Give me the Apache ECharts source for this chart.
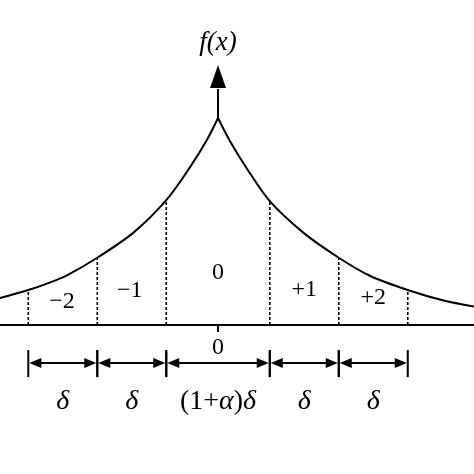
<!DOCTYPE html>
<html>
<head>
<meta charset="utf-8">
<script src="https://cdn.jsdelivr.net/npm/echarts@6/dist/echarts.min.js"></script>
<style>
html,body{margin:0;padding:0;background:#fff;}
#c{width:474px;height:474px;}
</style>
</head>
<body>
<div id="c"></div>
<script>
// ---- data (x in units of delta, y relative to peak) ----
const leftCurveX  = [-3.16, -2.75, -2.44, -2.19, -1.75, -1.23, -0.75, -0.41, -0.16, 0];
const leftCurveY  = [0.130, 0.169, 0.205, 0.240, 0.325, 0.445, 0.603, 0.760, 0.895, 1.0];
const rightCurveX = [0, 0.17, 0.41, 0.75, 1.24, 1.75, 2.20, 2.75, 3.27, 3.71];
const rightCurveY = [1.0, 0.890, 0.760, 0.598, 0.445, 0.325, 0.238, 0.169, 0.118, 0.089];

const boundaries      = [-2.75, -1.75, -0.75, 0.75, 1.75, 2.75];
const boundaryHeights = [0.169, 0.325, 0.603, 0.598, 0.325, 0.169];

const regionLabels = ['\u22122', '\u22121', '0', '+1', '+2'];
const regionX      = [-2.26, -1.28, 0, 1.25, 2.25];
const regionY      = [0.111, 0.164, 0.251, 0.169, 0.130];

const dimStart  = [-2.75, -1.75, -0.75, 0.75, 1.75];
const dimEnd    = [-1.75, -0.75, 0.75, 1.75, 2.75];
const dimLabels = ['{i|δ}', '{i|δ}', '{u|(1+}{i|α}{u|)}{i|δ}', '{i|δ}', '{i|δ}'];

const xTickValues = [0];
const xTickLabels = ['0'];
const yAxisName = 'f(x)';

// ---- layout constants ----
const X_MIN = -3.16, X_MAX = 3.71, Y_MIN = -0.5, Y_MAX = 1.26;
const DIM_ROW_Y = -0.184, DIM_LABEL_Y = -0.372, TICK_LABEL_Y = -0.111, NAME_Y = 1.362;
const FONT = 'Liberation Serif';

const chart = echarts.init(document.getElementById('c'));

const option = {
  animation: false,
  backgroundColor: '#fff',
  grid: {left: 0, right: 0, top: 64.18, bottom: 45.5},
  xAxis: {
    type: 'value', min: X_MIN, max: X_MAX,
    axisLine: {onZero: true, lineStyle: {color: '#000', width: 2}},
    axisTick: {show: true, customValues: xTickValues, length: 7, lineStyle: {color: '#000', width: 2}},
    axisLabel: {show: false},
    splitLine: {show: false}
  },
  yAxis: {
    type: 'value', min: Y_MIN, max: Y_MAX,
    axisLine: {show: false}, axisTick: {show: false}, axisLabel: {show: false}, splitLine: {show: false}
  },
  series: [
    {
      type: 'line', data: leftCurveX.map((x, i) => [x, leftCurveY[i]]),
      smooth: 0.3, symbol: 'none', clip: false,
      lineStyle: {color: '#000', width: 2}
    },
    {
      type: 'line', data: rightCurveX.map((x, i) => [x, rightCurveY[i]]),
      smooth: 0.3, symbol: 'none', clip: false,
      lineStyle: {color: '#000', width: 2}
    },
    // dashed boundaries
    {
      type: 'custom',
      data: boundaries.map((x, i) => [x, boundaryHeights[i]]),
      renderItem: function (params, api) {
        const p0 = api.coord([api.value(0), 0]);
        const p1 = api.coord([api.value(0), api.value(1)]);
        return {
          type: 'line',
          shape: {x1: p0[0], y1: p0[1], x2: p1[0], y2: p1[1]},
          style: {stroke: '#000', lineWidth: 1.6, lineDash: [3, 2]}
        };
      }
    },
    // dimension arrows
    {
      type: 'custom',
      data: dimStart.map((s, i) => [s, dimEnd[i]]),
      renderItem: function (params, api) {
        const a = api.coord([api.value(0), DIM_ROW_Y]);
        const b = api.coord([api.value(1), DIM_ROW_Y]);
        const y = a[1];
        const L = 12, H = 5;
        return {
          type: 'group',
          children: [
            {type: 'line', shape: {x1: a[0] + 4, y1: y, x2: b[0] - 4, y2: y}, style: {stroke: '#000', lineWidth: 2}},
            {type: 'polygon', shape: {points: [[a[0] + 1, y], [a[0] + 1 + L, y - H], [a[0] + 1 + L, y + H]]}, style: {fill: '#000'}},
            {type: 'polygon', shape: {points: [[b[0] - 1, y], [b[0] - 1 - L, y - H], [b[0] - 1 - L, y + H]]}, style: {fill: '#000'}},
            {type: 'line', shape: {x1: a[0], y1: y - 13, x2: a[0], y2: y + 14}, style: {stroke: '#000', lineWidth: 2}},
            {type: 'line', shape: {x1: b[0], y1: y - 13, x2: b[0], y2: y + 14}, style: {stroke: '#000', lineWidth: 2}}
          ]
        };
      }
    },
    // vertical axis arrow
    {
      type: 'custom',
      data: [[0, 1.0]],
      renderItem: function (params, api) {
        const base = api.coord([0, api.value(1)]);
        const tip = api.coord([0, 1.256]);
        const headBase = api.coord([0, 1.145]);
        return {
          type: 'group',
          children: [
            {type: 'line', shape: {x1: base[0], y1: base[1], x2: headBase[0], y2: headBase[1] + 1}, style: {stroke: '#000', lineWidth: 2}},
            {type: 'polygon', shape: {points: [[tip[0], tip[1]], [tip[0] - 8, headBase[1]], [tip[0] + 8, headBase[1]]]}, style: {fill: '#000'}}
          ]
        };
      }
    }
  ]
};
chart.setOption(option);

// texts placed through the grid's own coordinate conversion
function gText(dataPt, style) {
  const p = chart.convertToPixel({gridIndex: 0}, dataPt);
  return {
    type: 'text', x: p[0], y: p[1], silent: true,
    style: Object.assign({fill: '#000', fontFamily: FONT, textAlign: 'center', textVerticalAlign: 'middle',
                          align: 'center', verticalAlign: 'middle'}, style)
  };
}
const texts = [];
regionLabels.forEach((t, i) => texts.push(gText([regionX[i], regionY[i]], {text: t, fontSize: 24})));
xTickValues.forEach((v, i) => texts.push(gText([v, TICK_LABEL_Y], {text: xTickLabels[i], fontSize: 24})));
dimStart.forEach((s, i) => texts.push(gText([(s + dimEnd[i]) / 2, DIM_LABEL_Y], {
  text: dimLabels[i], fontSize: 28,
  rich: {
    i: {fontFamily: FONT, fontSize: 28, fontStyle: 'italic', fill: '#000'},
    u: {fontFamily: FONT, fontSize: 28, fill: '#000'}
  }
})));
texts.push(gText([0, NAME_Y], {text: yAxisName, fontSize: 27, fontStyle: 'italic'}));
chart.setOption({graphic: texts});
</script>
</body>
</html>
